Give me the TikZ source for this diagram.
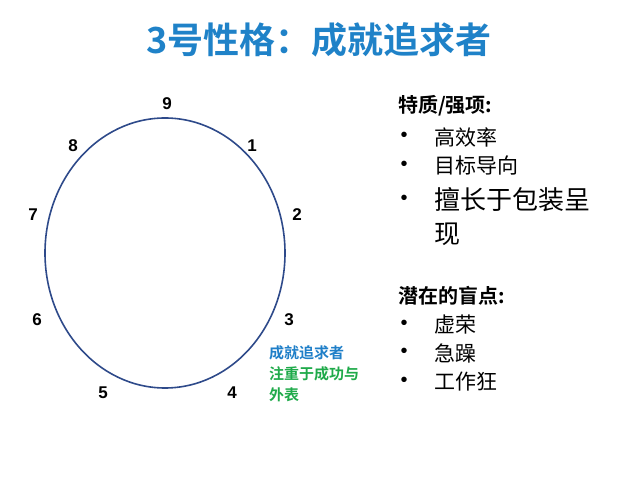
\documentclass[tikz,border=0pt]{standalone}
\usepackage{fontspec}
\setmainfont{Liberation Sans}
\newfontfamily\cjk{Noto Sans CJK SC}
\newfontfamily\cjkb{Noto Sans CJK SC Bold}
\definecolor{titleblue}{HTML}{1F82C8}
\definecolor{navy}{HTML}{2E4A8A}
\definecolor{lblue}{HTML}{1F7FC8}
\definecolor{lgreen}{HTML}{1FAA4A}
\tikzset{num/.style={font=\fontsize{17}{17}\selectfont\bfseries},
 txt/.style={anchor=west,font=\fontsize{21}{24}\selectfont\cjk, inner sep=0},
 big/.style={anchor=west,font=\fontsize{26}{28}\selectfont\cjk, inner sep=0},
 head/.style={anchor=west,font=\fontsize{20}{22}\selectfont\cjkb, inner sep=0},
 bul/.style={font=\fontsize{20}{24}\selectfont, inner sep=0},
 lab/.style={anchor=west,font=\fontsize{15}{16}\selectfont\cjkb, inner sep=0}}
\begin{document}
\begin{tikzpicture}[x=1pt,y=-1pt]
\useasboundingbox (0,0) rectangle (638,478);
\node[font=\fontsize{36}{40}\selectfont\cjkb, text=titleblue] (t) at (319,40) {3号性格：成就追求者};
\draw[navy, line width=1.6pt] (165,253) ellipse [x radius=120, y radius=135];
\node[num] (n9) at (167,104) {9};
\node[num] (n1) at (252,146) {1};
\node[num] (n2) at (297,215) {2};
\node[num] (n3) at (289,320) {3};
\node[num] (n4) at (232,393) {4};
\node[num] (n5) at (103,393) {5};
\node[num] (n6) at (37,320) {6};
\node[num] (n7) at (33,215) {7};
\node[num] (n8) at (73,146) {8};
\node[lab, text=lblue] (l1) at (269,353) {成就追求者};
\node[lab, text=lgreen] (l2) at (269,374) {注重于成功与};
\node[lab, text=lgreen] (l3) at (269,395) {外表};
\node[head] (h1) at (398,106) {特质/强项:};
\node[bul] (b1) at (404,137) {•}; \node[txt] (s1) at (434,137) {高效率};
\node[bul] (b2) at (404,166) {•}; \node[txt] (s2) at (434,166) {目标导向};
\node[bul] (b3) at (404,200) {•}; \node[big] (s3) at (434,200) {擅长于包装呈};
\node[big] (s4) at (434,234) {现};
\node[head] (h2) at (398,296) {潜在的盲点:};
\node[bul] (b4) at (404,325) {•}; \node[txt] (s5) at (434,325) {虚荣};
\node[bul] (b5) at (404,353) {•}; \node[txt] (s6) at (434,353) {急躁};
\node[bul] (b6) at (404,382) {•}; \node[txt] (s7) at (434,382) {工作狂};
\end{tikzpicture}
\end{document}
